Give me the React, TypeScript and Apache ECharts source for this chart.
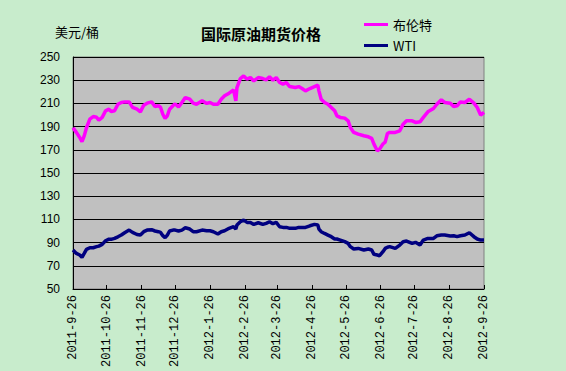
import React, { useEffect, useRef } from 'react';
import * as echarts from 'echarts';

// Calendar: one category per day from 2011-9-26 to 2012-9-26
const startYMD = [2011, 9, 26];
const dayCount = 367;

const sampleDays = [
  0, 3, 6, 8, 10, 12, 15, 18, 21, 23, 26, 29, 32, 34, 37, 40, 43, 46, 50, 53,
  57, 60, 63, 66, 70, 73, 76, 78, 80, 82, 84, 86, 89, 91, 94, 97, 100, 104, 107, 110,
  115, 119, 122, 125, 129, 132, 135, 139, 143, 145, 146, 149, 152, 155, 158, 161, 165, 169, 172, 175,
  178, 181, 184, 187, 190, 193, 198, 201, 204, 207, 211, 215, 218, 219, 221, 224, 227, 230, 233, 235,
  238, 242, 245, 247, 250, 254, 259, 263, 266, 268, 271, 273, 276, 278, 280, 282, 287, 291, 294, 297,
  302, 305, 309, 312, 316, 321, 324, 328, 331, 336, 339, 342, 345, 349, 353, 357, 360, 363, 366,
];

const brentValues = [
  189, 185, 180.6, 177, 182, 189, 196.4, 198.7, 198, 195.6, 198, 203.6, 205, 203, 203.6, 209.3, 210.8, 211.3, 211.3, 206.5,
  205, 202.7, 208.5, 210.2, 211.3, 207.3, 208, 206.5, 200.7, 197, 199.3, 205, 208, 209.5, 207, 210.8, 215, 213.6, 210.2, 209.3,
  212.2, 210, 210.8, 209.3, 209.3, 213.6, 216.5, 218.8, 221.7, 212.2, 223.7, 231.4, 233.7, 230.9, 232.3, 229.4, 232.3, 231.4, 230.3, 232.9,
  230, 232.3, 228, 226.6, 228, 224.5, 223.7, 224.5, 222.8, 220.8, 222.8, 224.5, 225.7, 220.8, 213.6, 210.8, 209.3, 206.5, 203.6, 199.3,
  197.9, 197.3, 195, 189.3, 185, 183.5, 182.1, 181.2, 179.8, 174.9, 169.2, 170.6, 175, 176.6, 184, 185, 185, 186.4, 192.1, 195,
  195, 193.6, 194.1, 197.9, 202.7, 205.6, 209.3, 213.1, 210.8, 210.2, 207.3, 207.9, 211.3, 210.8, 213.6, 210.2, 206.5, 199.9, 202.2,
];

const wtiValues = [
  83.6, 80.7, 79.3, 77.3, 80.7, 84.2, 85.6, 85.6, 86.5, 87, 88.5, 91.6, 93, 92.8, 93.6, 95, 96.5, 98.5, 100.8, 98.8,
  97, 96.5, 99.4, 100.8, 101.1, 100, 99.4, 98.8, 96, 94.2, 96.5, 100, 100.8, 100.8, 100, 100.8, 102.8, 101.7, 99.4, 99.4,
  100.8, 100.2, 100.2, 99.4, 97.4, 99.4, 100.2, 102.3, 103.7, 101.7, 105.1, 108, 109.4, 107.4, 107.4, 105.7, 107.1, 105.7, 106.6, 108,
  106.3, 107.4, 103.7, 103.1, 103.1, 102.3, 102.3, 103.1, 103.1, 103.1, 104.5, 105.7, 105.1, 101.7, 99.4, 97.9, 96.5, 95.1, 93.1, 93.1,
  92.2, 90.8, 89.3, 86.5, 84.5, 85, 83.6, 84.5, 83.6, 79.9, 79.3, 78.7, 82.2, 85, 86, 86.5, 85, 87.9, 90.8, 91.3,
  89.3, 90.2, 87.9, 92.2, 93.6, 93.6, 95.9, 96.5, 96.5, 95.7, 95.9, 95.1, 95.9, 96.5, 98.5, 95.1, 93.1, 92.2, 92.2,
];

const seriesNames = ['布伦特', 'WTI'];
const yMin = 50;
const yMax = 250;
const yStep = 20;
const titleText = '国际原油期货价格';
const unitText = '美元/桶';

function buildCategories(): string[] {
  const out: string[] = [];
  const t0 = Date.UTC(startYMD[0], startYMD[1] - 1, startYMD[2]);
  for (let i = 0; i < dayCount; i++) {
    const d = new Date(t0 + i * 86400000);
    out.push(`${d.getUTCFullYear()}-${d.getUTCMonth() + 1}-${d.getUTCDate()}`);
  }
  return out;
}

export default function App() {
  const ref = useRef<HTMLDivElement>(null);
  useEffect(() => {
    document.body.style.margin = '0';
    if (!ref.current) return;
    const chart = echarts.init(ref.current, null, { renderer: 'svg' });
    const categories = buildCategories();
    const isTick = (index: number) => categories[index].split('-')[2] === '26';
    const brentData = sampleDays.map((d, i) => [d, brentValues[i]]);
    const wtiData = sampleDays.map((d, i) => [d, wtiValues[i]]);
    chart.setOption({
      animation: false,
      backgroundColor: '#c8eccc',
      title: {
        text: titleText,
        left: 201,
        top: 26,
        padding: 0,
        textStyle: { fontSize: 15, fontWeight: 'bold', color: '#000', fontFamily: 'Noto Sans CJK SC' },
      },
      graphic: [
        {
          type: 'text',
          left: 55,
          top: 25,
          style: { text: unitText, fontSize: 13, fill: '#000', fontFamily: 'Noto Sans CJK SC' },
        },
      ],
      legend: {
        data: seriesNames,
        orient: 'vertical',
        left: 364,
        top: 18,
        padding: 0,
        itemWidth: 24,
        itemHeight: 3,
        itemGap: 8,
        icon: 'rect',
        textStyle: { fontSize: 13, color: '#000', fontFamily: 'Noto Sans CJK SC' },
      },
      grid: {
        left: 73,
        right: 82,
        top: 57,
        bottom: 82,
        show: true,
        backgroundColor: '#c0c0c0',
        borderColor: '#808080',
        borderWidth: 1,
      },
      xAxis: {
        type: 'category',
        data: categories,
        boundaryGap: false,
        axisLine: { show: true, lineStyle: { color: '#000', width: 1 } },
        axisTick: {
          show: true,
          inside: true,
          length: 4,
          interval: (index: number) => isTick(index),
          lineStyle: { color: '#000' },
        },
        axisLabel: {
          interval: (index: number) => isTick(index),
          rotate: 90,
          margin: 6,
          fontSize: 12,
          color: '#000',
          fontFamily: 'Liberation Mono',
        },
        splitLine: { show: false },
      },
      yAxis: {
        type: 'value',
        min: yMin,
        max: yMax,
        interval: yStep,
        axisLine: { show: true, lineStyle: { color: '#000', width: 1 } },
        axisTick: { show: false },
        axisLabel: { margin: 13, fontSize: 12, color: '#000', fontFamily: 'Liberation Sans' },
        splitLine: { show: true, lineStyle: { color: '#000', width: 1 } },
      },
      series: [
        {
          name: seriesNames[0],
          type: 'line',
          data: brentData,
          showSymbol: false,
          symbol: 'none',
          color: '#ff00ff',
          lineStyle: { color: '#ff00ff', width: 3.5 },
        },
        {
          name: seriesNames[1],
          type: 'line',
          data: wtiData,
          showSymbol: false,
          symbol: 'none',
          color: '#000080',
          lineStyle: { color: '#000080', width: 3.5 },
        },
      ],
    });
    return () => chart.dispose();
  }, []);
  return <div ref={ref} style={{ width: 566, height: 371 }} />;
}
